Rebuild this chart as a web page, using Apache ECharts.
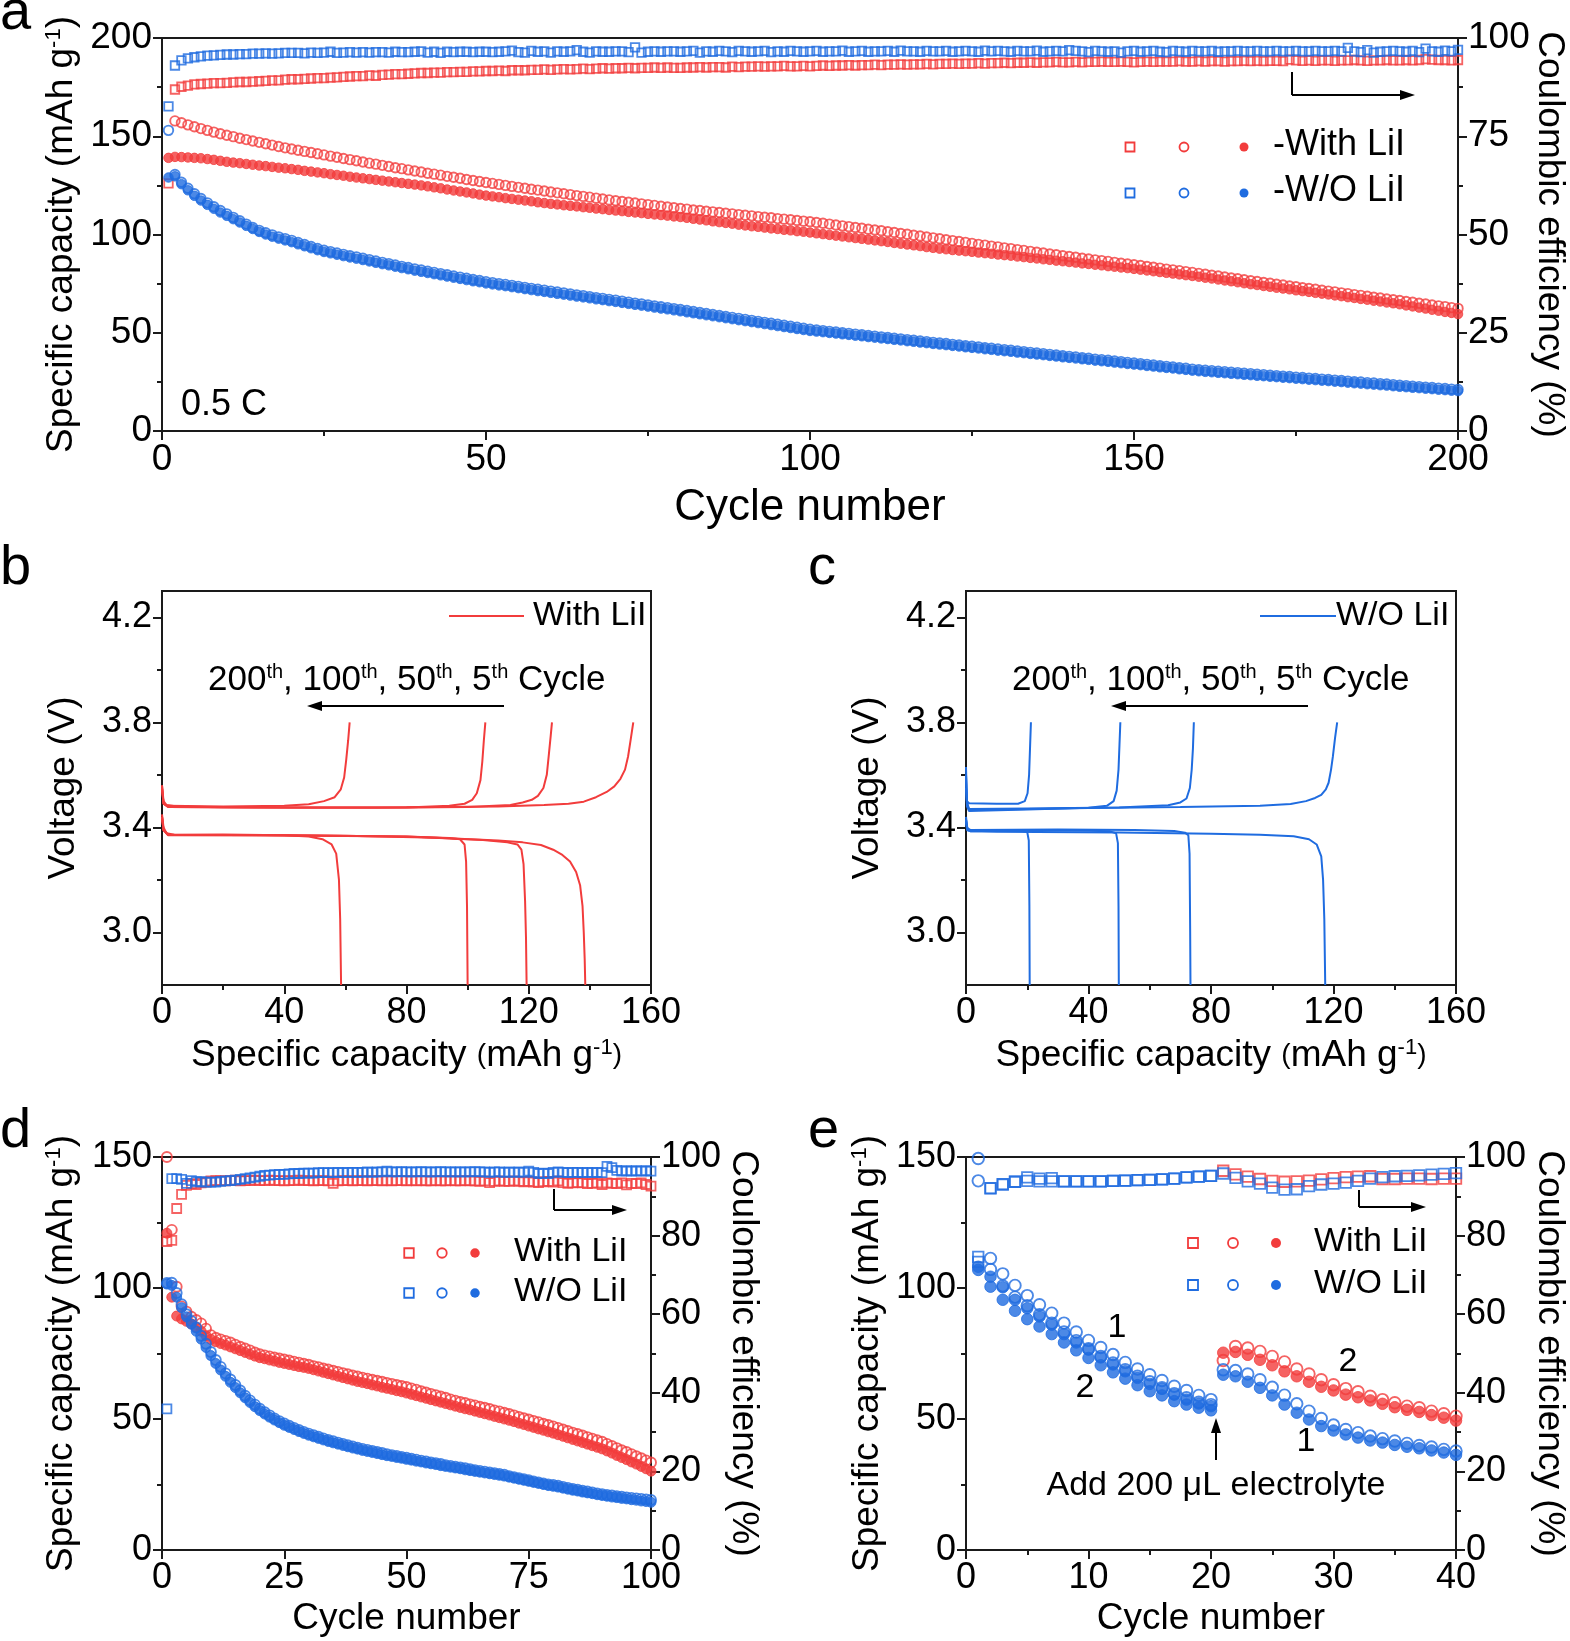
<!DOCTYPE html>
<html><head><meta charset="utf-8">
<script src="https://cdn.jsdelivr.net/npm/echarts@6/dist/echarts.min.js"></script>
<style>html,body{margin:0;padding:0;background:#fff}#c{width:1570px;height:1641px}</style>
</head><body><div id="c"></div>
<script>
// ---------- Panel a : 200 cycles at 0.5 C ----------
const aWithCharge = [null,157.8,156.9,155.8,154.8,153.9,153.0,152.1,151.3,150.5,
149.8,149.0,148.3,147.6,146.9,146.2,145.5,144.8,144.1,143.5,
142.9,142.3,141.7,141.1,140.5,139.9,139.3,138.7,138.1,137.5,
136.9,136.3,135.8,135.2,134.6,134.0,133.5,132.9,132.3,131.8,
131.2,130.7,130.2,129.6,129.1,128.6,128.0,127.5,127.0,126.5,
126.0,125.5,125.0,124.5,124.0,123.5,123.0,122.6,122.1,121.6,
121.2,120.7,120.3,119.8,119.4,119.0,118.5,118.1,117.6,117.2,
116.8,116.4,116.0,115.6,115.2,114.8,114.4,114.0,113.6,113.2,
112.9,112.5,112.2,111.8,111.5,111.2,110.8,110.5,110.1,109.8,
109.5,109.1,108.8,108.5,108.1,107.8,107.5,107.1,106.8,106.5,
106.1,105.7,105.3,104.8,104.4,104.0,103.6,103.2,102.7,102.3,
101.9,101.4,101.0,100.5,100.1,99.6,99.2,98.7,98.3,97.8,
97.3,96.9,96.4,96.0,95.5,95.0,94.6,94.1,93.7,93.2,
92.8,92.3,91.9,91.4,91.0,90.6,90.1,89.7,89.2,88.8,
88.4,87.9,87.5,87.1,86.7,86.3,85.8,85.4,85.0,84.6,
84.2,83.7,83.3,82.9,82.4,82.0,81.6,81.1,80.7,80.2,
79.8,79.3,78.9,78.4,77.9,77.5,77.0,76.5,76.1,75.6,
75.2,74.7,74.3,73.8,73.4,72.9,72.5,72.1,71.6,71.2,
70.8,70.3,69.9,69.4,69.0,68.6,68.1,67.7,67.2,66.8,
66.4,65.9,65.5,65.0,64.6,64.1,63.7,63.3,62.8,62.4];
const aWithDischarge = [139.0,139.5,139.4,139.2,139.0,138.8,138.4,138.0,137.5,137.0,
136.6,136.3,135.9,135.5,135.1,134.8,134.4,134.0,133.7,133.3,
132.9,132.4,132.0,131.6,131.2,130.7,130.3,129.9,129.4,129.0,
128.6,128.2,127.8,127.4,127.0,126.6,126.2,125.8,125.4,125.0,
124.5,124.0,123.5,122.9,122.4,121.9,121.4,120.9,120.3,119.8,
119.4,119.0,118.5,118.1,117.7,117.3,116.9,116.4,116.0,115.6,
115.3,114.9,114.6,114.3,113.9,113.6,113.2,112.9,112.5,112.2,
111.9,111.5,111.2,110.9,110.5,110.2,109.9,109.6,109.2,108.9,
108.5,108.0,107.6,107.2,106.7,106.3,105.9,105.5,105.0,104.6,
104.2,103.9,103.5,103.1,102.8,102.4,102.1,101.7,101.4,101.0,
100.6,100.2,99.8,99.4,99.0,98.6,98.2,97.8,97.4,97.0,
96.6,96.2,95.7,95.3,94.9,94.5,94.1,93.6,93.2,92.8,
92.5,92.1,91.8,91.5,91.2,90.8,90.5,90.2,89.8,89.5,
89.2,88.8,88.5,88.1,87.8,87.4,87.1,86.7,86.4,86.0,
85.7,85.3,85.0,84.6,84.3,83.9,83.6,83.2,82.9,82.5,
82.1,81.7,81.3,80.9,80.5,80.1,79.7,79.3,78.9,78.5,
78.0,77.6,77.1,76.6,76.2,75.7,75.2,74.7,74.3,73.8,
73.4,72.9,72.5,72.1,71.6,71.2,70.8,70.3,69.9,69.5,
69.0,68.6,68.1,67.7,67.2,66.8,66.3,65.9,65.4,65.0,
64.5,63.9,63.4,62.8,62.3,61.7,61.2,60.6,60.1,59.5];
const aWoCharge = [153.0,130.5,126.6,123.5,120.7,118.3,116.1,114.1,112.2,110.5,
108.7,107.0,105.3,103.6,102.1,100.9,99.8,98.8,97.9,97.0,
95.9,94.9,93.9,92.9,92.0,91.3,90.6,89.9,89.2,88.6,
87.9,87.2,86.5,85.8,85.2,84.5,83.8,83.2,82.5,81.9,
81.3,80.7,80.1,79.5,78.9,78.3,77.7,77.1,76.6,76.0,
75.5,75.0,74.6,74.1,73.6,73.1,72.6,72.1,71.7,71.2,
70.7,70.3,69.8,69.3,68.9,68.4,67.9,67.5,67.0,66.6,
66.1,65.6,65.1,64.7,64.2,63.7,63.2,62.8,62.3,61.8,
61.3,60.8,60.3,59.8,59.3,58.8,58.3,57.8,57.3,56.8,
56.3,55.8,55.3,54.8,54.3,53.8,53.3,52.8,52.3,51.8,
51.4,51.1,50.7,50.4,50.0,49.7,49.3,49.0,48.6,48.3,
47.9,47.6,47.2,46.9,46.5,46.2,45.8,45.5,45.1,44.8,
44.5,44.1,43.8,43.4,43.1,42.8,42.4,42.1,41.7,41.4,
41.1,40.7,40.4,40.0,39.7,39.4,39.0,38.7,38.3,38.0,
37.7,37.3,37.0,36.6,36.3,36.0,35.6,35.3,34.9,34.6,
34.3,33.9,33.6,33.2,32.9,32.6,32.2,31.9,31.5,31.2,
30.9,30.7,30.4,30.2,29.9,29.7,29.4,29.2,28.9,28.7,
28.4,28.2,27.9,27.7,27.4,27.2,26.9,26.7,26.4,26.2,
25.9,25.7,25.4,25.1,24.9,24.6,24.4,24.1,23.9,23.6,
23.3,23.1,22.8,22.6,22.3,22.1,21.8,21.6,21.3,21.1];
const aWoDischarge = [129.0,129.6,125.6,122.5,119.7,117.3,115.1,113.1,111.2,109.5,
107.8,106.1,104.4,102.8,101.3,100.0,98.9,97.9,97.0,96.1,
95.0,94.0,93.0,92.0,91.1,90.4,89.7,89.0,88.3,87.7,
87.0,86.3,85.6,84.9,84.3,83.6,82.9,82.3,81.6,81.0,
80.4,79.8,79.2,78.6,78.0,77.4,76.8,76.2,75.7,75.1,
74.6,74.1,73.7,73.2,72.7,72.2,71.7,71.2,70.8,70.3,
69.8,69.4,68.9,68.4,68.0,67.5,67.0,66.6,66.1,65.7,
65.2,64.7,64.2,63.8,63.3,62.8,62.3,61.9,61.4,60.9,
60.4,59.9,59.4,58.9,58.4,57.9,57.4,56.9,56.4,55.9,
55.4,54.9,54.4,53.9,53.4,52.9,52.4,51.9,51.4,50.9,
50.6,50.3,49.9,49.6,49.2,48.9,48.5,48.2,47.8,47.5,
47.1,46.8,46.4,46.1,45.7,45.4,45.0,44.7,44.3,44.0,
43.7,43.3,43.0,42.6,42.3,42.0,41.6,41.3,40.9,40.6,
40.3,39.9,39.6,39.2,38.9,38.6,38.2,37.9,37.5,37.2,
36.9,36.5,36.2,35.8,35.5,35.2,34.8,34.5,34.1,33.8,
33.5,33.1,32.8,32.4,32.1,31.8,31.4,31.1,30.7,30.4,
30.1,29.9,29.6,29.4,29.1,28.9,28.6,28.4,28.1,27.9,
27.6,27.4,27.1,26.9,26.6,26.4,26.1,25.9,25.6,25.4,
25.1,24.9,24.6,24.3,24.1,23.8,23.6,23.3,23.1,22.8,
22.5,22.3,22.0,21.8,21.5,21.3,21.0,20.8,20.5,20.3];
const aWithCE = [63.0,86.9,87.6,87.9,88.2,88.3,88.4,88.5,88.5,88.6,
88.7,88.8,88.8,88.9,89.0,89.1,89.2,89.2,89.4,89.5,
89.5,89.6,89.7,89.8,89.8,89.9,90.0,90.1,90.2,90.3,
90.3,90.5,90.4,90.6,90.7,90.8,90.8,90.9,91.0,91.1,
91.1,91.2,91.2,91.3,91.3,91.4,91.4,91.5,91.5,91.6,
91.6,91.7,91.6,91.8,91.8,91.8,91.9,91.9,92.0,91.9,
92.0,92.1,92.0,92.1,92.2,92.1,92.2,92.3,92.2,92.3,
92.3,92.4,92.3,92.4,92.4,92.5,92.4,92.5,92.4,92.4,
92.5,92.5,92.6,92.5,92.6,92.6,92.5,92.7,92.6,92.7,
92.7,92.8,92.7,92.8,92.8,92.9,92.8,92.8,92.9,92.8,
92.9,93.0,92.9,93.0,93.0,93.1,93.0,93.1,93.1,93.2,
93.1,93.2,93.2,93.3,93.2,93.3,93.3,93.4,93.3,93.4,
93.4,93.5,93.4,93.5,93.5,93.6,93.5,93.6,93.6,93.7,
93.6,93.7,93.7,93.8,93.7,93.8,93.8,93.9,93.8,93.8,
93.9,93.8,93.9,93.9,94.0,93.9,93.9,94.0,93.9,93.8,
93.9,94.0,93.9,94.0,94.0,94.0,94.1,94.0,94.0,94.1,
94.0,94.1,94.1,94.0,94.1,94.1,94.2,94.1,94.2,94.1,
94.2,94.2,94.1,94.5,94.3,94.2,94.3,94.2,94.3,94.3,
94.2,94.3,94.3,94.4,94.3,94.2,94.3,94.3,94.4,94.3,
94.3,94.4,94.3,94.4,94.6,94.5,94.4,94.4,94.3,94.4];
const aWoCE = [82.6,93.0,94.3,94.8,95.1,95.3,95.5,95.6,95.7,95.8,
95.8,95.9,95.9,96.0,96.0,96.1,96.0,96.1,96.2,96.2,
96.2,96.1,96.3,96.2,96.3,96.5,96.2,96.3,96.4,96.3,
96.4,96.3,96.4,96.4,96.3,96.5,96.4,96.4,96.5,96.6,
96.3,96.5,96.2,96.5,96.4,96.5,96.5,96.4,96.5,96.5,
96.4,96.5,96.6,96.8,96.4,96.3,96.7,96.5,96.6,96.3,
96.6,96.5,96.6,96.9,96.5,96.3,96.6,96.5,96.5,96.6,
96.6,96.4,97.6,96.3,96.5,96.6,96.5,96.6,96.6,96.5,
96.6,96.7,96.3,96.6,96.5,96.7,96.6,96.4,96.7,96.6,
96.5,96.6,96.7,96.4,96.6,96.5,96.7,96.6,96.5,96.6,
96.7,96.5,96.6,96.6,96.8,96.5,96.6,96.7,96.5,96.6,
96.6,96.7,96.5,96.8,96.6,96.6,96.5,96.7,96.6,96.6,
96.7,96.5,96.6,96.7,96.6,96.5,96.8,96.6,96.7,96.6,
96.5,96.7,96.6,96.6,96.8,96.5,96.6,96.7,96.6,96.9,
96.7,96.6,96.4,96.7,96.6,96.5,96.6,96.3,96.6,96.7,
96.5,96.6,96.7,96.5,96.4,96.7,96.6,96.5,96.7,96.6,
96.6,96.7,96.5,96.6,96.6,96.7,96.6,96.6,96.7,96.6,
96.6,96.7,96.6,96.6,96.7,96.6,96.6,96.7,96.6,96.6,
96.7,96.6,97.5,96.6,96.4,96.9,96.3,96.5,96.6,96.7,
96.6,96.5,96.7,96.4,97.3,96.6,96.5,96.8,96.6,97.0];

// ---------- Panel b / c : voltage profiles [capacity, voltage] ----------
const bCycles = ['5th','50th','100th','200th'];
const bCharge = [
 [[0,3.56],[0.5,3.50],[1.5,3.485],[5,3.48],[20,3.477],[50,3.476],[80,3.477],[110,3.48],[125,3.485],[133,3.49],[138,3.498],[142,3.515],[145.5,3.535],[148,3.556],[150,3.585],[151.5,3.62],[152.5,3.67],[153.3,3.73],[154.2,3.8]],
 [[0,3.55],[0.5,3.49],[2,3.478],[30,3.476],[70,3.475],[100,3.478],[114,3.485],[118,3.495],[121,3.505],[123,3.52],[124.8,3.55],[125.9,3.6],[126.6,3.68],[127.2,3.75],[127.6,3.8]],
 [[0,3.55],[0.5,3.49],[2,3.478],[40,3.476],[80,3.476],[94,3.482],[99,3.49],[101.5,3.505],[103,3.53],[104.2,3.58],[104.8,3.65],[105.3,3.73],[105.8,3.8]],
 [[0,3.56],[0.5,3.49],[2,3.482],[20,3.48],[40,3.482],[48,3.488],[53,3.5],[56.5,3.515],[58.5,3.545],[59.6,3.59],[60.3,3.66],[60.9,3.73],[61.4,3.8]]
];
const bDischarge = [
 [[0,3.45],[0.5,3.40],[1.5,3.378],[4,3.372],[30,3.371],[60,3.368],[90,3.361],[110,3.35],[118,3.343],[124,3.333],[128,3.315],[131,3.295],[133.5,3.27],[135.5,3.23],[136.8,3.18],[137.6,3.10],[138.0,3.0],[138.3,2.9],[138.5,2.8]],
 [[0,3.44],[0.5,3.39],[2,3.37],[40,3.369],[80,3.365],[105,3.352],[113,3.343],[116.3,3.335],[117.6,3.315],[118.3,3.26],[118.8,3.12],[119.1,2.98],[119.3,2.8]],
 [[0,3.44],[0.5,3.39],[2,3.372],[40,3.37],[80,3.365],[94,3.36],[97.5,3.355],[99,3.335],[99.5,3.27],[99.8,3.1],[100,2.8]],
 [[0,3.44],[0.5,3.39],[2,3.372],[20,3.373],[40,3.37],[48,3.365],[52.5,3.355],[55.5,3.335],[57,3.3],[57.9,3.2],[58.3,3.05],[58.6,2.8]]
];
const cCharge = [
 [[0,3.63],[0.3,3.5],[1,3.468],[10,3.468],[40,3.474],[70,3.478],[96,3.482],[106,3.489],[111,3.5],[114,3.512],[116,3.524],[117.5,3.545],[118.4,3.57],[119.2,3.62],[119.8,3.67],[120.5,3.74],[121.2,3.8]],
 [[0,3.6],[0.3,3.49],[1,3.47],[20,3.472],[50,3.476],[66,3.484],[70,3.495],[72,3.51],[73.1,3.55],[73.7,3.62],[74.1,3.7],[74.4,3.8]],
 [[0,3.6],[0.3,3.48],[1,3.462],[20,3.468],[40,3.475],[46,3.482],[48.2,3.5],[49.2,3.54],[49.8,3.62],[50.1,3.71],[50.4,3.8]],
 [[0,3.55],[0.3,3.5],[1,3.492],[10,3.49],[17,3.49],[19.2,3.5],[20.1,3.53],[20.6,3.6],[20.9,3.7],[21.2,3.8]]
];
const cDischarge = [
 [[0,3.44],[0.4,3.40],[1.5,3.385],[10,3.383],[50,3.381],[80,3.376],[96,3.372],[107,3.366],[112,3.355],[114.5,3.335],[116,3.29],[116.6,3.2],[117,3.05],[117.3,2.8]],
 [[0,3.43],[0.4,3.395],[1.5,3.39],[30,3.392],[55,3.39],[68,3.386],[71.5,3.38],[72.6,3.37],[73.0,3.3],[73.2,3.0],[73.3,2.8]],
 [[0,3.43],[0.4,3.39],[1.5,3.385],[20,3.39],[40,3.387],[47,3.385],[49,3.378],[49.6,3.34],[49.8,3.1],[49.9,2.8]],
 [[0,3.42],[0.4,3.39],[1.5,3.386],[10,3.387],[18,3.387],[20,3.382],[20.5,3.35],[20.7,3.1],[20.8,2.8]]
];

// ---------- Panel d : 100 cycles ----------
const dWithCharge = [150.0,122.2,100.5,93.0,91.0,89.0,87.8,86.5,84.5,82.0,
81.0,80.4,79.8,79.2,78.4,77.6,76.9,76.2,75.4,74.7,
74.3,73.9,73.5,73.1,72.7,72.3,71.9,71.5,71.1,70.7,
70.2,69.8,69.3,68.9,68.4,68.0,67.5,67.1,66.6,66.2,
65.8,65.4,65.0,64.6,64.2,63.8,63.4,63.0,62.6,62.2,
61.7,61.2,60.6,60.1,59.6,59.1,58.6,58.1,57.5,57.0,
56.5,56.1,55.6,55.2,54.7,54.3,53.8,53.3,52.9,52.4,
51.9,51.4,50.8,50.3,49.8,49.3,48.8,48.2,47.7,47.2,
46.6,46.0,45.4,44.8,44.3,43.7,43.1,42.5,41.9,41.3,
40.5,39.7,38.9,38.1,37.4,36.6,35.8,35.0,34.2,33.4];
const dWithDischarge = [120.9,96.5,89.3,88.2,87.3,86.3,85.0,83.5,81.8,80.4,
79.5,78.8,78.2,77.5,76.8,76.1,75.4,74.7,74.0,73.4,
73.0,72.5,72.1,71.6,71.2,70.8,70.4,70.0,69.7,69.3,
68.8,68.3,67.8,67.3,66.8,66.3,65.8,65.3,64.8,64.3,
63.9,63.5,63.0,62.6,62.1,61.7,61.3,60.8,60.4,59.9,
59.4,58.9,58.4,57.9,57.4,56.9,56.4,55.9,55.4,54.9,
54.4,53.9,53.5,53.0,52.5,52.0,51.5,51.0,50.5,50.0,
49.5,49.0,48.4,47.9,47.3,46.8,46.2,45.7,45.1,44.6,
44.0,43.4,42.8,42.2,41.6,41.0,40.4,39.8,39.2,38.6,
37.8,37.0,36.1,35.3,34.5,33.6,32.8,31.9,31.0,30.1];
const dWoCharge = [101.9,102.0,98.1,93.8,90.0,87.4,84.9,81.8,78.7,75.6,
72.5,69.9,67.4,65.1,63.0,60.9,58.9,57.1,55.5,53.9,
52.6,51.4,50.2,49.2,48.3,47.4,46.6,45.8,45.1,44.4,
43.8,43.2,42.6,42.0,41.5,41.0,40.5,40.0,39.5,39.0,
38.6,38.2,37.8,37.4,37.0,36.6,36.2,35.9,35.5,35.2,
34.8,34.5,34.1,33.8,33.4,33.1,32.8,32.4,32.1,31.8,
31.5,31.2,30.8,30.5,30.2,29.9,29.6,29.3,29.0,28.7,
28.2,27.8,27.4,27.0,26.6,26.2,25.8,25.4,25.0,24.8,
24.5,24.1,23.7,23.3,23.0,22.6,22.3,22.0,21.6,21.3,
21.0,20.8,20.5,20.3,20.1,19.9,19.7,19.5,19.3,19.1];
const dWoDischarge = [101.5,101.0,96.5,92.5,89.0,86.2,83.5,80.5,77.3,74.2,
71.2,68.7,66.3,64.0,62.0,60.0,58.1,56.3,54.7,53.2,
51.9,50.7,49.6,48.6,47.6,46.8,46.0,45.2,44.5,43.8,
43.2,42.6,42.0,41.4,40.9,40.4,39.9,39.4,38.9,38.5,
38.0,37.6,37.2,36.8,36.4,36.0,35.7,35.3,35.0,34.6,
34.3,33.9,33.6,33.2,32.9,32.6,32.2,31.9,31.6,31.3,
31.0,30.6,30.3,30.0,29.7,29.4,29.1,28.8,28.5,28.2,
27.8,27.4,27.0,26.6,26.2,25.8,25.4,25.0,24.6,24.3,
24.0,23.6,23.2,22.8,22.5,22.1,21.8,21.5,21.1,20.8,
20.5,20.2,20.0,19.7,19.5,19.2,19.0,18.7,18.5,18.2];
const dWithCE = [78.5,78.8,86.9,90.5,92.8,93.2,93.0,93.4,93.6,93.9,
94.0,94.0,93.9,94.0,94.1,93.9,94.0,94.0,94.1,94.0,
94.0,94.1,94.0,94.0,93.9,94.0,94.0,94.1,94.0,94.0,
93.9,94.0,94.0,93.9,93.3,93.9,94.0,94.0,93.9,94.0,
94.0,93.9,94.0,94.0,93.9,94.0,93.9,94.0,94.0,93.9,
94.0,93.9,94.0,93.9,93.9,94.0,93.9,93.9,94.0,93.9,
93.9,94.0,93.9,93.9,93.8,93.9,93.5,93.8,93.9,93.8,
93.8,93.9,93.8,93.7,93.8,93.6,93.5,93.7,93.8,93.6,
93.9,93.5,93.3,93.4,93.5,93.4,93.2,93.3,93.4,93.0,
93.4,93.3,93.2,93.4,92.9,93.3,93.2,93.4,93.0,92.6];
const dWoCE = [35.9,94.5,94.5,94.3,93.3,94.0,93.7,93.7,93.6,93.6,
93.6,93.8,93.9,94.0,94.1,94.3,94.5,94.7,94.9,95.1,
95.3,95.4,95.5,95.6,95.6,95.7,95.8,95.8,95.9,95.9,
95.9,96.0,96.0,96.0,96.0,96.1,96.0,96.1,96.1,96.1,
96.1,96.2,96.1,96.2,96.2,96.4,96.2,96.2,96.3,96.2,
96.2,96.2,96.3,96.2,96.2,96.2,96.3,96.2,96.2,96.2,
96.2,96.2,96.2,96.3,96.2,96.2,96.1,96.2,96.2,96.1,
96.2,96.1,96.2,96.1,96.4,96.1,95.8,95.9,95.8,96.1,
96.2,96.1,96.0,96.1,96.1,96.0,96.1,96.0,96.1,96.0,
97.6,97.3,96.6,96.4,96.5,96.4,96.5,96.4,96.5,96.4];

// ---------- Panel e : 40 cycles, cell 1 (W/O LiI), cell 2 (W/O LiI, LiI electrolyte added after cycle 20) ----------
const eSwitchCycle = 20;
const eCell1Charge = [149.4,111.3,105.4,101.0,97.1,93.6,90.4,86.6,83.2,80.0,
77.3,74.6,71.6,69.1,66.9,64.7,62.5,60.9,59.0,57.4,
68.8,68.5,67.2,65.0,62.1,59.1,55.8,53.0,50.2,47.7,
46.0,44.8,43.5,42.5,41.6,40.7,39.9,39.3,38.4,37.8];
const eCell1Discharge = [108.1,104.3,100.3,95.5,92.3,89.1,86.0,82.4,79.2,76.5,
73.5,70.8,68.2,65.7,63.4,61.5,59.3,57.4,55.9,54.9,
66.9,66.3,64.2,61.9,59.0,55.5,52.4,49.8,47.3,45.6,
44.1,42.9,41.8,41.0,40.1,39.4,38.8,38.0,37.2,36.3];
const eCell2Charge = [140.9,107.1,100.8,96.5,93.2,89.8,86.6,83.2,79.9,76.8,
73.9,71.4,68.8,66.3,64.2,61.9,59.7,58.1,56.4,55.5,
72.3,77.7,77.1,75.8,73.9,71.8,69.1,67.2,65.0,63.1,
61.6,60.4,58.7,57.4,56.2,54.9,54.3,53.0,52.0,51.1];
const eCell2Discharge = [106.9,100.5,95.5,91.3,88.1,85.3,82.4,79.2,76.2,73.3,
70.5,67.8,65.4,62.9,60.6,59.0,56.8,55.5,54.3,53.3,
75.3,75.6,74.5,72.6,70.5,68.2,66.3,64.2,62.3,60.9,
59.3,58.3,57.1,55.8,54.5,53.5,52.7,51.5,50.5,49.4];
const eCell1CE = [74.6,92.0,93.0,93.7,94.8,94.5,94.6,93.8,93.8,93.8,
93.8,93.9,94.0,94.1,94.2,94.3,94.5,94.8,95.0,95.2,
95.8,94.7,93.8,93.2,92.2,91.7,91.8,92.6,93.0,93.2,
93.5,93.9,94.5,94.9,95.1,95.2,95.3,95.5,95.7,95.9];
const eCell2CE = [73.3,92.1,93.1,93.7,93.9,93.8,93.8,93.8,93.8,93.8,
93.8,93.9,94.0,94.1,94.2,94.3,94.5,94.8,95.0,95.2,
96.5,95.6,95.0,94.4,93.9,93.7,93.8,94.0,94.3,94.6,
94.9,95.0,95.1,94.4,94.4,94.5,94.5,94.4,94.5,94.5];

// ---------- Tick labels ----------
const bcVoltTicks = [3.0,3.4,3.8,4.2];
const bcVoltMinor = [3.2,3.6,4.0];

// ================= rendering =================
const RED = '#f23c3c', BLUE = '#1f6ce0', AX = '#1a1a1a';
const FONT = "'Liberation Sans', Arial, sans-serif";
const chart = echarts.init(document.getElementById('c'), null, {renderer: 'canvas'});

function axis(o) {
  const fs = o.fs || 36;
  const ax = {
    type: 'value', gridIndex: o.g, min: o.min, max: o.max, interval: o.interval,
    position: o.position,
    axisLine: {show: true, onZero: false, lineStyle: {color: AX, width: 2}},
    axisTick: {show: true, inside: false, length: 9, lineStyle: {color: AX, width: 2}},
    minorTick: {show: o.minor !== false, splitNumber: 2, length: 5, lineStyle: {color: AX, width: 2}},
    splitLine: {show: false},
    axisLabel: {color: '#000', fontFamily: FONT, fontSize: fs, margin: o.margin || 10, showMinLabel: true, showMaxLabel: true},
  };
  if (o.name) {
    ax.name = o.name;
    ax.nameLocation = 'middle';
    ax.nameGap = o.nameGap;
    ax.nameMoveOverlap = false;
    if (o.nameRotate !== undefined) ax.nameRotate = o.nameRotate;
    ax.nameTextStyle = {color: '#000', fontFamily: FONT, fontSize: o.nfs || 37,
      rich: {s: {fontSize: 22, fontFamily: FONT, color: '#000', verticalAlign: 'top', padding: [0, 0, 14, 0]},
             p: {fontSize: 28, fontFamily: FONT, color: '#000'}}};
  }
  return ax;
}
const capName = 'Specific capacity (mAh g{s|-1})';
const capNameSmall = 'Specific capacity {p|(}mAh g{s|-1}{p|)}';

const xAxis = [
  axis({g: 0, min: 0, max: 200, interval: 50, fs: 37, name: 'Cycle number', nameGap: 55, nfs: 44}),
  axis({g: 1, min: 0, max: 160, interval: 40, name: capNameSmall, nameGap: 52}),
  axis({g: 2, min: 0, max: 160, interval: 40, name: capNameSmall, nameGap: 52}),
  axis({g: 3, min: 0, max: 100, interval: 25, minor: false, name: 'Cycle number', nameGap: 50}),
  axis({g: 4, min: 0, max: 40, interval: 10, name: 'Cycle number', nameGap: 50}),
];
function voltAxis(g) {
  const a = axis({g: g, min: 2.8, max: 4.3, interval: 0.2, minor: false, position: 'left', name: 'Voltage (V)', nameGap: 80, nameRotate: 90});
  a.axisLabel.customValues = bcVoltTicks;
  a.axisLabel.formatter = v => v.toFixed(1);
  a.axisTick.customValues = bcVoltTicks;
  return a;
}
function voltMinorAxis(g) {
  return {type: 'value', gridIndex: g, min: 2.8, max: 4.3, position: 'left',
    axisLine: {show: false}, axisLabel: {show: false}, splitLine: {show: false},
    axisTick: {show: true, length: 5, customValues: bcVoltMinor, lineStyle: {color: AX, width: 2}}};
}
const yAxis = [
  axis({g: 0, min: 0, max: 200, interval: 50, fs: 37, position: 'left', name: capName, nameGap: 82, nameRotate: 90}),
  axis({g: 0, min: 0, max: 100, interval: 25, fs: 37, position: 'right', name: 'Coulombic efficiency (%)', nameGap: 73, nameRotate: -90}),
  voltAxis(1), voltMinorAxis(1),
  voltAxis(2), voltMinorAxis(2),
  axis({g: 3, min: 0, max: 150, interval: 50, position: 'left', name: capName, nameGap: 82, nameRotate: 90}),
  axis({g: 3, min: 0, max: 100, interval: 20, position: 'right', name: 'Coulombic efficiency (%)', nameGap: 74, nameRotate: -90}),
  axis({g: 4, min: 0, max: 150, interval: 50, position: 'left', name: capName, nameGap: 80, nameRotate: 90}),
  axis({g: 4, min: 0, max: 100, interval: 20, position: 'right', name: 'Coulombic efficiency (%)', nameGap: 75, nameRotate: -90}),
];

const grid = [
  {left: 162, top: 38, width: 1296, height: 393},
  {left: 162, top: 591, width: 489, height: 394},
  {left: 966, top: 591, width: 490, height: 394},
  {left: 162, top: 1157, width: 489, height: 393},
  {left: 966, top: 1157, width: 490, height: 393},
].map(g => Object.assign({show: true, borderColor: AX, borderWidth: 2, backgroundColor: 'transparent',
  containLabel: false, outerBoundsMode: 'none'}, g));

function pts(arr, from, to) {
  const out = [];
  for (let i = (from || 0); i < (to === undefined ? arr.length : to); i++) {
    if (arr[i] !== null) out.push([i + 1, arr[i]]);
  }
  return out;
}
function sc(kind, color, data, xi, yi, size) {
  const s = {type: 'scatter', xAxisIndex: xi, yAxisIndex: yi, data: data, symbolSize: size,
    silent: true, animation: false, clip: true};
  if (kind === 'sq') { s.symbol = 'rect'; s.symbolSize = size - 1; s.itemStyle = {color: 'rgba(255,255,255,0)', borderColor: color, borderWidth: 1.8}; }
  else if (kind === 'open') { s.symbol = 'circle'; s.itemStyle = {color: 'rgba(255,255,255,0)', borderColor: color, borderWidth: 1.9}; }
  else { s.symbol = 'circle'; s.itemStyle = {color: color, borderColor: color, borderWidth: 1}; }
  return s;
}
function ln(color, data, xi, yi) {
  return {type: 'line', xAxisIndex: xi, yAxisIndex: yi, data: data, showSymbol: false, symbol: 'none',
    lineStyle: {color: color, width: 2}, silent: true, animation: false, smooth: false};
}

const series = [];
// a
series.push(sc('sq', RED, pts(aWithCE), 0, 1, 9.5));
series.push(sc('sq', BLUE, pts(aWoCE), 0, 1, 9.5));
series.push(sc('open', RED, pts(aWithCharge), 0, 0, 9.5));
series.push(sc('fill', RED, pts(aWithDischarge), 0, 0, 9.5));
series.push(sc('open', BLUE, pts(aWoCharge), 0, 0, 9.5));
series.push(sc('fill', BLUE, pts(aWoDischarge), 0, 0, 9.5));
// b, c
bCharge.forEach(d => series.push(ln(RED, d, 1, 2)));
bDischarge.forEach(d => series.push(ln(RED, d, 1, 2)));
cCharge.forEach(d => series.push(ln(BLUE, d, 2, 4)));
cDischarge.forEach(d => series.push(ln(BLUE, d, 2, 4)));
// d
series.push(sc('sq', RED, pts(dWithCE), 3, 7, 10));
series.push(sc('open', RED, pts(dWithCharge), 3, 6, 10));
series.push(sc('fill', RED, pts(dWithDischarge), 3, 6, 10));
series.push(sc('sq', BLUE, pts(dWoCE), 3, 7, 10));
series.push(sc('open', BLUE, pts(dWoCharge), 3, 6, 10));
series.push(sc('fill', BLUE, pts(dWoDischarge), 3, 6, 10));
// e
const S = eSwitchCycle;
series.push(sc('sq', RED, pts(eCell2CE, S), 4, 9, 11.5));
series.push(sc('open', RED, pts(eCell2Charge, S), 4, 8, 11.5));
series.push(sc('fill', RED, pts(eCell2Discharge, S), 4, 8, 11.5));
series.push(sc('sq', BLUE, pts(eCell1CE), 4, 9, 11.5));
series.push(sc('sq', BLUE, pts(eCell2CE, 0, S), 4, 9, 11.5));
series.push(sc('open', BLUE, pts(eCell1Charge), 4, 8, 11.5));
series.push(sc('open', BLUE, pts(eCell2Charge, 0, S), 4, 8, 11.5));
series.push(sc('fill', BLUE, pts(eCell1Discharge), 4, 8, 11.5));
series.push(sc('fill', BLUE, pts(eCell2Discharge, 0, S), 4, 8, 11.5));

// ---------- graphic annotations ----------
const G = [];
function txt(x, y, t, fs, align, rich) {
  const st = {text: t, fontSize: fs, fontFamily: FONT, fill: '#000', align: align || 'left', verticalAlign: 'middle'};
  if (rich) st.rich = rich;
  G.push({type: 'text', x: x, y: y, silent: true, style: st});
}
function seg(x1, y1, x2, y2) {
  G.push({type: 'line', silent: true, shape: {x1, y1, x2, y2}, style: {stroke: '#000', lineWidth: 2}});
}
function head(x, y, dir) {
  let p;
  if (dir === 'r') p = [[x, y], [x - 15, y - 5], [x - 15, y + 5]];
  if (dir === 'l') p = [[x, y], [x + 15, y - 5], [x + 15, y + 5]];
  if (dir === 'u') p = [[x, y], [x - 5, y + 15], [x + 5, y + 15]];
  G.push({type: 'polygon', silent: true, shape: {points: p}, style: {fill: '#000'}});
}
function mk(kind, cx, cy, color, s) {
  const h = s / 2;
  if (kind === 'sq') G.push({type: 'rect', silent: true, shape: {x: cx - h, y: cy - h, width: s, height: s}, style: {fill: 'none', stroke: color, lineWidth: 1.8}});
  else if (kind === 'open') G.push({type: 'circle', silent: true, shape: {cx, cy, r: h}, style: {fill: 'none', stroke: color, lineWidth: 1.8}});
  else G.push({type: 'circle', silent: true, shape: {cx, cy, r: h}, style: {fill: color}});
}
// panel letters
txt(0, 14, 'a', 56); txt(0, 569, 'b', 56); txt(808, 569, 'c', 56);
txt(0, 1132, 'd', 56); txt(808, 1132, 'e', 56);
// a
txt(181, 405, '0.5 C', 36);
seg(1292, 72, 1292, 95); seg(1292, 95, 1402, 95); head(1415, 95, 'r');
[['sq', 1130], ['open', 1184], ['fill', 1244]].forEach(m => { mk(m[0], m[1], 147, RED, 9); mk(m[0], m[1], 193, BLUE, 9); });
txt(1273, 145, '-With LiI', 36); txt(1273, 191, '-W/O LiI', 36);
// b, c
const supRich = {s: {fontSize: 20, fontFamily: FONT, fill: '#000', verticalAlign: 'top', padding: [0, 0, 12, 0]}};
const cycTxt = '200{s|th}, 100{s|th}, 50{s|th}, 5{s|th} Cycle';
txt(208, 680, cycTxt, 35, 'left', supRich);
seg(504, 706, 320, 706); head(307, 706, 'l');
G.push({type: 'line', silent: true, shape: {x1: 449, y1: 616, x2: 524, y2: 616}, style: {stroke: RED, lineWidth: 2}});
txt(533, 616, 'With LiI', 34);
txt(1012, 680, cycTxt, 35, 'left', supRich);
seg(1308, 706, 1124, 706); head(1111, 706, 'l');
G.push({type: 'line', silent: true, shape: {x1: 1260, y1: 616, x2: 1336, y2: 616}, style: {stroke: BLUE, lineWidth: 2}});
txt(1336, 616, 'W/O LiI', 34);
// d
seg(554, 1189, 554, 1210); seg(554, 1210, 614, 1210); head(627, 1210, 'r');
[['sq', 409], ['open', 442], ['fill', 475]].forEach(m => { mk(m[0], m[1], 1253, RED, 9.5); mk(m[0], m[1], 1293, BLUE, 9.5); });
txt(514, 1252, 'With LiI', 34); txt(514, 1292, 'W/O LiI', 34);
// e
seg(1359, 1190, 1359, 1207); seg(1359, 1207, 1413, 1207); head(1426, 1207, 'r');
[['sq', 1193], ['open', 1233], ['fill', 1276]].forEach(m => { mk(m[0], m[1], 1243, RED, 10); mk(m[0], m[1], 1285, BLUE, 10); });
txt(1314, 1242, 'With LiI', 34); txt(1314, 1284, 'W/O LiI', 34);
seg(1216, 1460, 1216, 1430); head(1216, 1418, 'u');
txt(1216, 1486, 'Add 200 μL electrolyte', 34, 'center');
txt(1117, 1328, '1', 34, 'center'); txt(1085, 1388, '2', 34, 'center');
txt(1348, 1362, '2', 34, 'center'); txt(1306, 1442, '1', 34, 'center');

chart.setOption({
  animation: false,
  backgroundColor: '#fff',
  textStyle: {fontFamily: FONT},
  grid: grid, xAxis: xAxis, yAxis: yAxis, series: series,
  graphic: {elements: G}
});
</script></body></html>
